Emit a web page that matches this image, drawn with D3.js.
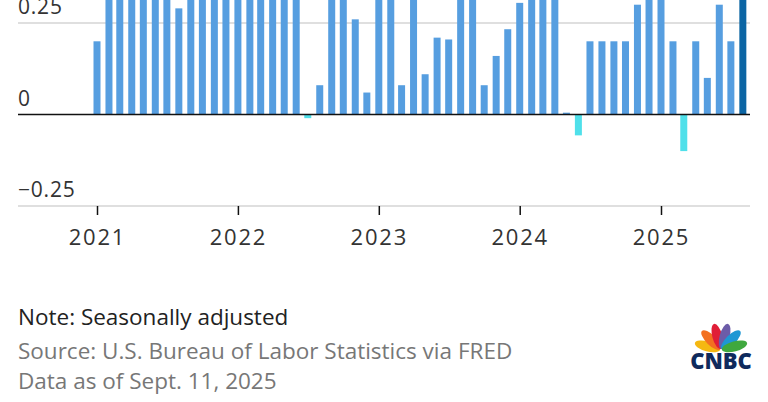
<!DOCTYPE html>
<html><head><meta charset="utf-8">
<script src="https://cdn.jsdelivr.net/npm/d3@7"></script>
<style>body{margin:0;background:#fff;} text{font-family:"Open Sans",sans-serif;}</style>
</head><body>
<svg id="chart" width="768" height="402"></svg>
<script>
// monthly change, Jan 2021 .. Aug 2025
const values = [0.2,0.4,0.6,0.7,0.7,0.9,0.5,0.29,0.4,0.9,0.7,0.6,
  0.6,0.8,1.2,0.35,1.0,1.3,-0.01,0.08,0.4,0.4,0.26,0.06,
  0.5,0.4,0.08,0.4,0.11,0.21,0.205,0.4,0.4,0.08,0.16,0.233,
  0.305,0.4,0.4,0.35,0.005,-0.057,0.2,0.2,0.2,0.2,0.3,0.4,
  0.5,0.2,-0.1,0.2,0.1,0.3,0.2,0.4];
const yearTicks = [2021,2022,2023,2024,2025];
const yTicks = [0.25,0,-0.25];
const yTickLabels = ["0.25","0","\u22120.25"];
const months = values.map((v,i)=>new Date(2021,i,1));

const svg = d3.select("#chart");
const x = d3.scaleTime().domain([new Date(2021,0,1), new Date(2025,0,1)]).range([97,661]);
const y = d3.scaleLinear().domain([-0.25,0.25]).range([206,23]);
const bw = 7;

// grid lines
svg.selectAll(".grid").data(yTicks.filter(d=>d!==0)).enter().append("line")
  .attr("x1",18).attr("x2",750).attr("y1",d=>y(d)).attr("y2",d=>y(d))
  .attr("stroke","#d4d4d4").attr("stroke-width",1.5);
svg.selectAll(".ylab").data(yTicks).enter().append("text")
  .attr("x",18).attr("y",d=>y(d)-9).attr("font-size",21).attr("letter-spacing",0.8).attr("fill","#333")
  .text((d,i)=>yTickLabels[i]);

// bars
svg.selectAll(".bar").data(values).enter().append("rect")
  .attr("x",(d,i)=>x(months[i])-bw/2).attr("width",bw)
  .attr("y",d=>d>=0?y(d):y(0)).attr("height",d=>Math.abs(y(d)-y(0)))
  .attr("fill",(d,i)=>i===values.length-1?"#0b65a4":(d<0?"#4fe0ea":"#569ee0"));

svg.append("line").attr("x1",18).attr("x2",750).attr("y1",y(0)).attr("y2",y(0))
  .attr("stroke","#111").attr("stroke-width",1.5);

// x axis
const xAxis = d3.axisBottom(x).tickValues(yearTicks.map(d=>new Date(d,0,1)))
  .tickFormat(d3.timeFormat("%Y")).tickSize(9).tickPadding(14);
const gx = svg.append("g").attr("transform",`translate(0,${y(-0.25)})`).call(xAxis);
gx.select(".domain").remove();
gx.selectAll(".tick line").attr("stroke","#111").attr("stroke-width",1.5);
gx.selectAll(".tick text").attr("font-size",22).attr("letter-spacing",1.8).attr("fill","#333").style("font-family","Open Sans");

// notes
svg.append("text").attr("x",18).attr("y",325).attr("font-size",22.5).attr("fill","#222").text("Note: Seasonally adjusted");
svg.append("text").attr("x",18).attr("y",359).attr("font-size",22.5).attr("fill","#777").text("Source: U.S. Bureau of Labor Statistics via FRED");
svg.append("text").attr("x",18).attr("y",389).attr("font-size",22.5).attr("fill","#777").text("Data as of Sept. 11, 2025");

// CNBC logo
const logo = svg.append("g").attr("transform","translate(721,350)");
const feathers = ["#f5b811","#f37021","#e01e37","#6c5ca8","#1e97d4","#3fa83e"];
feathers.forEach((c,i)=>{
  const a = -180 + 15 + i*30;
  logo.append("ellipse").attr("rx",5).attr("ry",13).attr("fill",c)
    .attr("transform",`rotate(${a+90}) translate(0,-14)`);
});
svg.append("text").attr("x",721).attr("y",369).attr("text-anchor","middle")
  .attr("font-size",22).attr("font-weight",800).attr("fill","#0f2a5c").text("CNBC");
</script>
</body></html>
